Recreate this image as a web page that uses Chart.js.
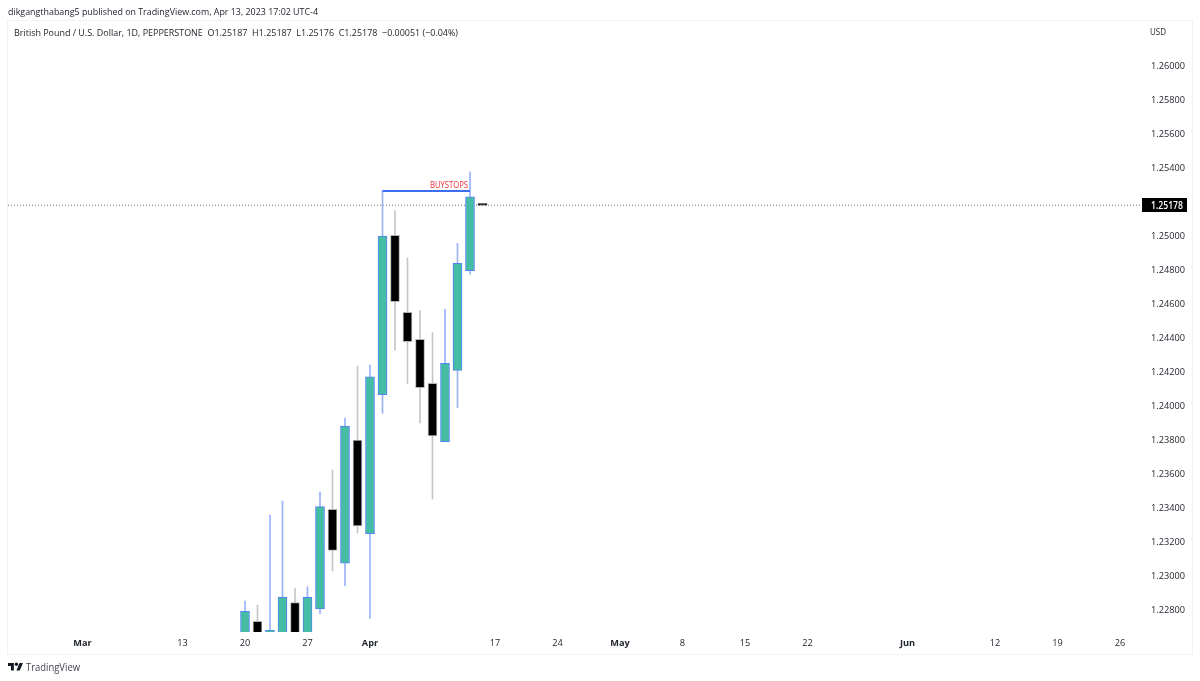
<!DOCTYPE html>
<html>
<head>
<meta charset="utf-8">
<title>GBPUSD daily</title>
<style>
html,body{margin:0;padding:0;background:#fff;overflow:hidden}
#wrap{position:absolute;left:0;top:0;width:1200px;height:681px}
</style>
<script src="https://cdn.jsdelivr.net/npm/chart.js@4/dist/chart.umd.min.js"></script>
</head>
<body>
<div id="wrap"><canvas id="chart" width="1200" height="681"></canvas></div>
<script>
// Trading-day index: 0 is 1 March 2023, weekdays only.
const firstCandleIndex = 13;
const opens  = [1.22620,1.22731,1.22620,1.22620,1.22840,1.22650,1.22803,1.23389,1.23072,1.23797,1.23246,1.24064,1.25001,1.24548,1.24389,1.24131,1.23787,1.24207,1.24793,1.25187];
const highs  = [1.22850,1.22826,1.23356,1.23438,1.22925,1.22934,1.23491,1.23621,1.23926,1.24232,1.24238,1.25262,1.25146,1.24869,1.24558,1.24428,1.24566,1.24954,1.25375,1.25187];
const lows   = [1.22580,1.22580,1.22580,1.22580,1.22580,1.22580,1.22775,1.23028,1.22940,1.23250,1.22748,1.23954,1.24325,1.24128,1.23897,1.23450,1.23787,1.23987,1.24772,1.25176];
const closes = [1.22789,1.22620,1.22679,1.22872,1.22620,1.22872,1.23405,1.23148,1.23879,1.23291,1.24168,1.24997,1.24611,1.24375,1.24105,1.23821,1.24248,1.24836,1.25228,1.25178];

const priceTicks = [1.228,1.230,1.232,1.234,1.236,1.238,1.240,1.242,1.244,1.246,1.248,1.250,1.252,1.254,1.256,1.258,1.260];
const dateTickIndex  = [0,8,13,18,23,33,38,43,48,53,58,66,73,78,83];
const dateTickLabels = ['Mar','13','20','27','Apr','17','24','May','8','15','22','Jun','12','19','26'];
const monthLabels = ['Mar','Apr','May','Jun'];

const sweepFromIndex = 24;
const sweepToIndex = 31;
const lastClose = closes[closes.length - 1];

const xMin = -5.96, xMax = 84.76;
const yMin = 1.226676, yMax = 1.262735;

const FONT = '"Open Sans", "Noto Sans", sans-serif';
const INK = '#22262f';
const UP_FILL = '#45bda5', UP_EDGE = '#5582f6', UP_WICK = '#9ab2fc';
const DOWN_FILL = '#000000', DOWN_EDGE = '#b4b4b4', DOWN_WICK = '#c6c6c6';

const isUp = i => closes[i] >= opens[i];
const isLast = i => i === closes.length - 1;
const xOf = i => firstCandleIndex + i;

const bodies = opens.map((o, i) => ({x: xOf(i), y: [Math.min(o, closes[i]), Math.max(o, closes[i])]}));
const wicks = highs.map((h, i) => ({x: xOf(i), y: [lows[i], h]}));

// Header, price tag, frame and brand mark are drawn straight onto the canvas.
const decorations = {
  id: 'decorations',
  beforeDraw(chart) {
    const c = chart.ctx;
    c.save();
    c.fillStyle = '#fff';
    c.fillRect(0, 0, 1200, 681);
    c.strokeStyle = '#f0f3fa';
    c.lineWidth = 1;
    c.strokeRect(7.5, 20.5, 1185, 634);
    c.restore();
  },
  afterDraw(chart) {
    const c = chart.ctx, xs = chart.scales.x, ys = chart.scales.y;
    c.save();
    c.textBaseline = 'middle';
    c.textAlign = 'left';
    c.fillStyle = INK;
    c.font = '9.6px ' + FONT;
    c.fillText('dikgangthabang5 published on TradingView.com, Apr 13, 2023 17:02 UTC-4', 8, 12, 310);
    c.fillText('British Pound / U.S. Dollar, 1D, PEPPERSTONE  O1.25187  H1.25187  L1.25176  C1.25178  \u22120.00051 (\u22120.04%)', 14, 33, 444);
    c.fillText('USD', 1150, 32, 16);

    // last price tag
    const py = ys.getPixelForValue(lastClose);
    c.fillStyle = '#000';
    c.fillRect(1142, Math.round(py) - 7, 45, 14);
    c.fillStyle = '#fff';
    c.font = '600 10px ' + FONT;
    c.fillText(lastClose.toFixed(5), 1151, py + 1, 32);

    // label over the swept high
    c.fillStyle = '#ee2b3b';
    c.font = '9px ' + FONT;
    c.textAlign = 'right';
    c.fillText('BUYSTOPS', xs.getPixelForValue(sweepToIndex) - 2, ys.getPixelForValue(highs[sweepFromIndex - firstCandleIndex]) - 5.5, 38);

    // brand mark
    c.textAlign = 'left';
    c.fillStyle = '#131722';
    c.translate(8, 661.3);
    c.scale(0.42, 0.42);
    c.fill(new Path2D('M14 22H7V11H0V4h14v18zM28 22h-8l7.5-18h8L28 22z'));
    c.beginPath();
    c.arc(20, 7, 4, 0, Math.PI * 2);
    c.fill();
    c.setTransform(1, 0, 0, 1, 0, 0);
    c.fillStyle = '#434651';
    c.font = '10px ' + FONT;
    c.fillText('TradingView', 26, 668.5, 54);
    c.restore();
  }
};

new Chart(document.getElementById('chart'), {
  type: 'bar',
  plugins: [decorations],
  data: {
    datasets: [
      {
        type: 'line', order: 0, label: 'Swept high',
        data: [{x: sweepFromIndex, y: highs[sweepFromIndex - firstCandleIndex]}, {x: sweepToIndex, y: highs[sweepFromIndex - firstCandleIndex]}],
        borderColor: '#3d6ef0', borderWidth: 2, pointRadius: 0, tension: 0
      },
      {
        type: 'line', order: 3, label: 'Last price',
        data: [{x: xMin, y: lastClose}, {x: xMax, y: lastClose}],
        borderColor: '#707070', borderWidth: 1, borderDash: [1, 2], pointRadius: 0, tension: 0
      },
      {
        order: 1, label: 'Body', data: bodies, grouped: false,
        barThickness: 9, borderWidth: 1, borderSkipped: false,
        backgroundColor: opens.map((o, i) => isUp(i) ? UP_FILL : DOWN_FILL),
        borderColor: opens.map((o, i) => isUp(i) ? UP_EDGE : (isLast(i) ? DOWN_FILL : DOWN_EDGE))
      },
      {
        order: 2, label: 'Wick', data: wicks, grouped: false,
        barThickness: 1, borderWidth: 0,
        backgroundColor: opens.map((o, i) => isUp(i) ? UP_WICK : DOWN_WICK)
      }
    ]
  },
  options: {
    responsive: false,
    animation: false,
    layout: {padding: {left: 8, right: 0, top: 19, bottom: 27}},
    plugins: {legend: {display: false}, tooltip: {enabled: false}},
    scales: {
      x: {
        type: 'linear', min: xMin, max: xMax, offset: false,
        grid: {display: false, drawTicks: false}, border: {display: false},
        afterBuildTicks(axis) { axis.ticks = dateTickIndex.map(v => ({value: v})); },
        afterFit(axis) { axis.height = 22; },
        ticks: {
          autoSkip: false, maxRotation: 0, padding: 6, color: INK,
          callback(value) { return dateTickLabels[dateTickIndex.indexOf(value)]; },
          font(ctx) {
            const lab = ctx.tick ? dateTickLabels[dateTickIndex.indexOf(ctx.tick.value)] : '';
            return {family: FONT, size: 9.2, weight: monthLabels.includes(lab) ? '700' : '400'};
          }
        }
      },
      y: {
        position: 'right', min: yMin, max: yMax,
        grid: {display: false, drawTicks: false}, border: {display: false},
        afterBuildTicks(axis) { axis.ticks = priceTicks.map(v => ({value: v})); },
        afterFit(axis) { axis.width = 58; },
        ticks: {
          autoSkip: false, padding: 9, color: INK, labelOffset: 1,
          font: {family: FONT, size: 9.2},
          callback(value) { return value.toFixed(5); }
        }
      }
    }
  }
});
</script>
</body>
</html>
